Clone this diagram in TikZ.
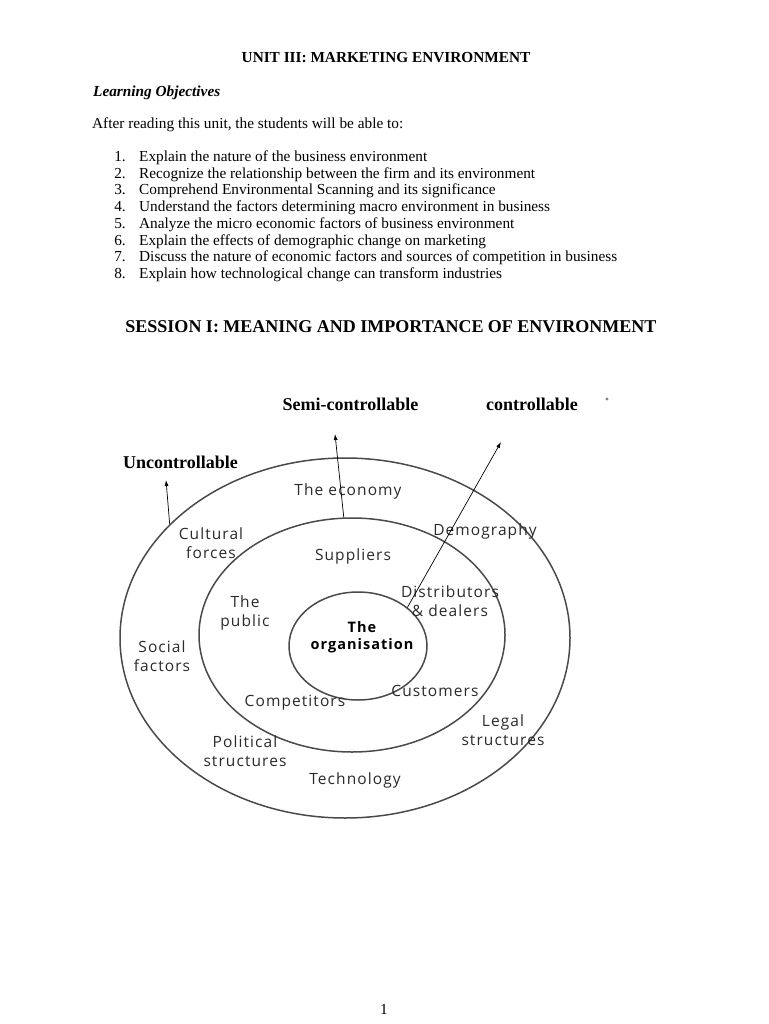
\documentclass[tikz,border=0pt]{standalone}
\usepackage{fontspec}
\setmainfont{Liberation Serif}
\newfontfamily\handfont[LetterSpace=7]{Open Sans}
\usetikzlibrary{arrows.meta, shapes.geometric, positioning}
\definecolor{ringgrey}{HTML}{4A4A4A}
\definecolor{handgrey}{HTML}{2A2A2A}

\begin{document}
\begin{tikzpicture}[x=1pt, y=-1pt, >={Latex[length=6pt,width=4pt]},
    body/.style={font=\fontsize{15.3}{16.7}\selectfont, inner sep=0pt},
    headbold/.style={font=\bfseries\fontsize{15.3}{16.7}\selectfont, inner sep=0pt},
    tag/.style={font=\bfseries\fontsize{18}{20}\selectfont, inner sep=0pt},
    ring/.style={draw=ringgrey, line width=1.5pt, ellipse, inner sep=0pt},
    hand/.style={font=\handfont\fontsize{15.5}{19.5}\selectfont, text=handgrey,
                 align=center, inner sep=0pt}]
  \useasboundingbox (0,0) rectangle (768,1024);
  % Headings
  \node[headbold] (unit) at (386,58) {UNIT III: MARKETING ENVIRONMENT};
  \node[body, font=\bfseries\itshape\fontsize{15.3}{16.7}\selectfont,
        anchor=base west] (learn) at (93,97) {Learning Objectives};
  \node[body, anchor=base west] (after) at (92,129) {After reading this unit, the students will be able to:};
  % Objectives
  \node[body, anchor=base east] (num1) at (126,161.5) {1.};
  \node[body, anchor=base west] (obj1) at (139,161.5) {Explain the nature of the business environment};
  \node[body, anchor=base east] (num2) at (126,178.2) {2.};
  \node[body, anchor=base west] (obj2) at (139,178.2) {Recognize the relationship between the firm and its environment};
  \node[body, anchor=base east] (num3) at (126,194.9) {3.};
  \node[body, anchor=base west] (obj3) at (139,194.9) {Comprehend Environmental Scanning and its significance};
  \node[body, anchor=base east] (num4) at (126,211.6) {4.};
  \node[body, anchor=base west] (obj4) at (139,211.6) {Understand the factors determining macro environment in business};
  \node[body, anchor=base east] (num5) at (126,228.3) {5.};
  \node[body, anchor=base west] (obj5) at (139,228.3) {Analyze the micro economic factors of business environment};
  \node[body, anchor=base east] (num6) at (126,245.0) {6.};
  \node[body, anchor=base west] (obj6) at (139,245.0) {Explain the effects of demographic change on marketing};
  \node[body, anchor=base east] (num7) at (126,261.7) {7.};
  \node[body, anchor=base west] (obj7) at (139,261.7) {Discuss the nature of economic factors and sources of competition in business};
  \node[body, anchor=base east] (num8) at (126,278.4) {8.};
  \node[body, anchor=base west] (obj8) at (139,278.4) {Explain how technological change can transform industries};
  % Session heading
  \node[tag, anchor=base] (session) at (391,332) {SESSION I: MEANING AND IMPORTANCE OF ENVIRONMENT};
  % Control labels
  \node[tag, anchor=base] (semi) at (350.5,410) {Semi-controllable};
  \node[tag, anchor=base] (ctrl) at (532,410) {controllable};
  \node[tag, anchor=base west] (unctrl) at (123,468) {Uncontrollable};
  \fill[gray] (607,399) circle (1.6pt);
  % Rings
  \node[ring, minimum width=450pt, minimum height=360pt] (outer) at (345,638) {};
  \node[ring, minimum width=306pt, minimum height=234pt] (middle) at (352,635) {};
  \node[ring, minimum width=138pt, minimum height=108pt] (inner) at (358,646) {};
  % Outer ring forces
  \node[hand] (economy) at (348,491) {The economy};
  \node[hand] (cultural) at (211,543) {Cultural\\forces};
  \node[hand] (demography) at (485,531) {Demography};
  \node[hand] (social) at (162,656) {Social\\factors};
  \node[hand] (political) at (245,751) {Political\\structures};
  \node[hand] (legal) at (503,730) {Legal\\structures};
  \node[hand] (technology) at (355,780) {Technology};
  % Middle ring actors
  \node[hand] (suppliers) at (353,556) {Suppliers};
  \node[hand] (public) at (245,613) {The\\public};
  \node[hand] (distrib) at (450,601) {Distributors\\\& dealers};
  \node[hand] (competitors) at (295,703) {Competitors};
  \node[hand] (customers) at (435,691) {Customers};
  % Core
  \node[hand, font=\handfont\bfseries\fontsize{14.5}{16.5}\selectfont, text=black]
       (org) at (362,637) {The\\organisation};
  % Pointers
  \coordinate (unctip) at (166,480);
  \coordinate (semitip) at (335,434);
  \coordinate (ctrltip) at (501,442);
  \draw[->, line width=0.7pt] (outer.147) -- (unctip);
  \draw[->, line width=0.7pt] (middle.94) -- (semitip);
  \draw[->, line width=0.7pt] (inner.38) -- (ctrltip);
  % Page number
  \node[body] (page) at (384,1009) {1};
\end{tikzpicture}
\end{document}
